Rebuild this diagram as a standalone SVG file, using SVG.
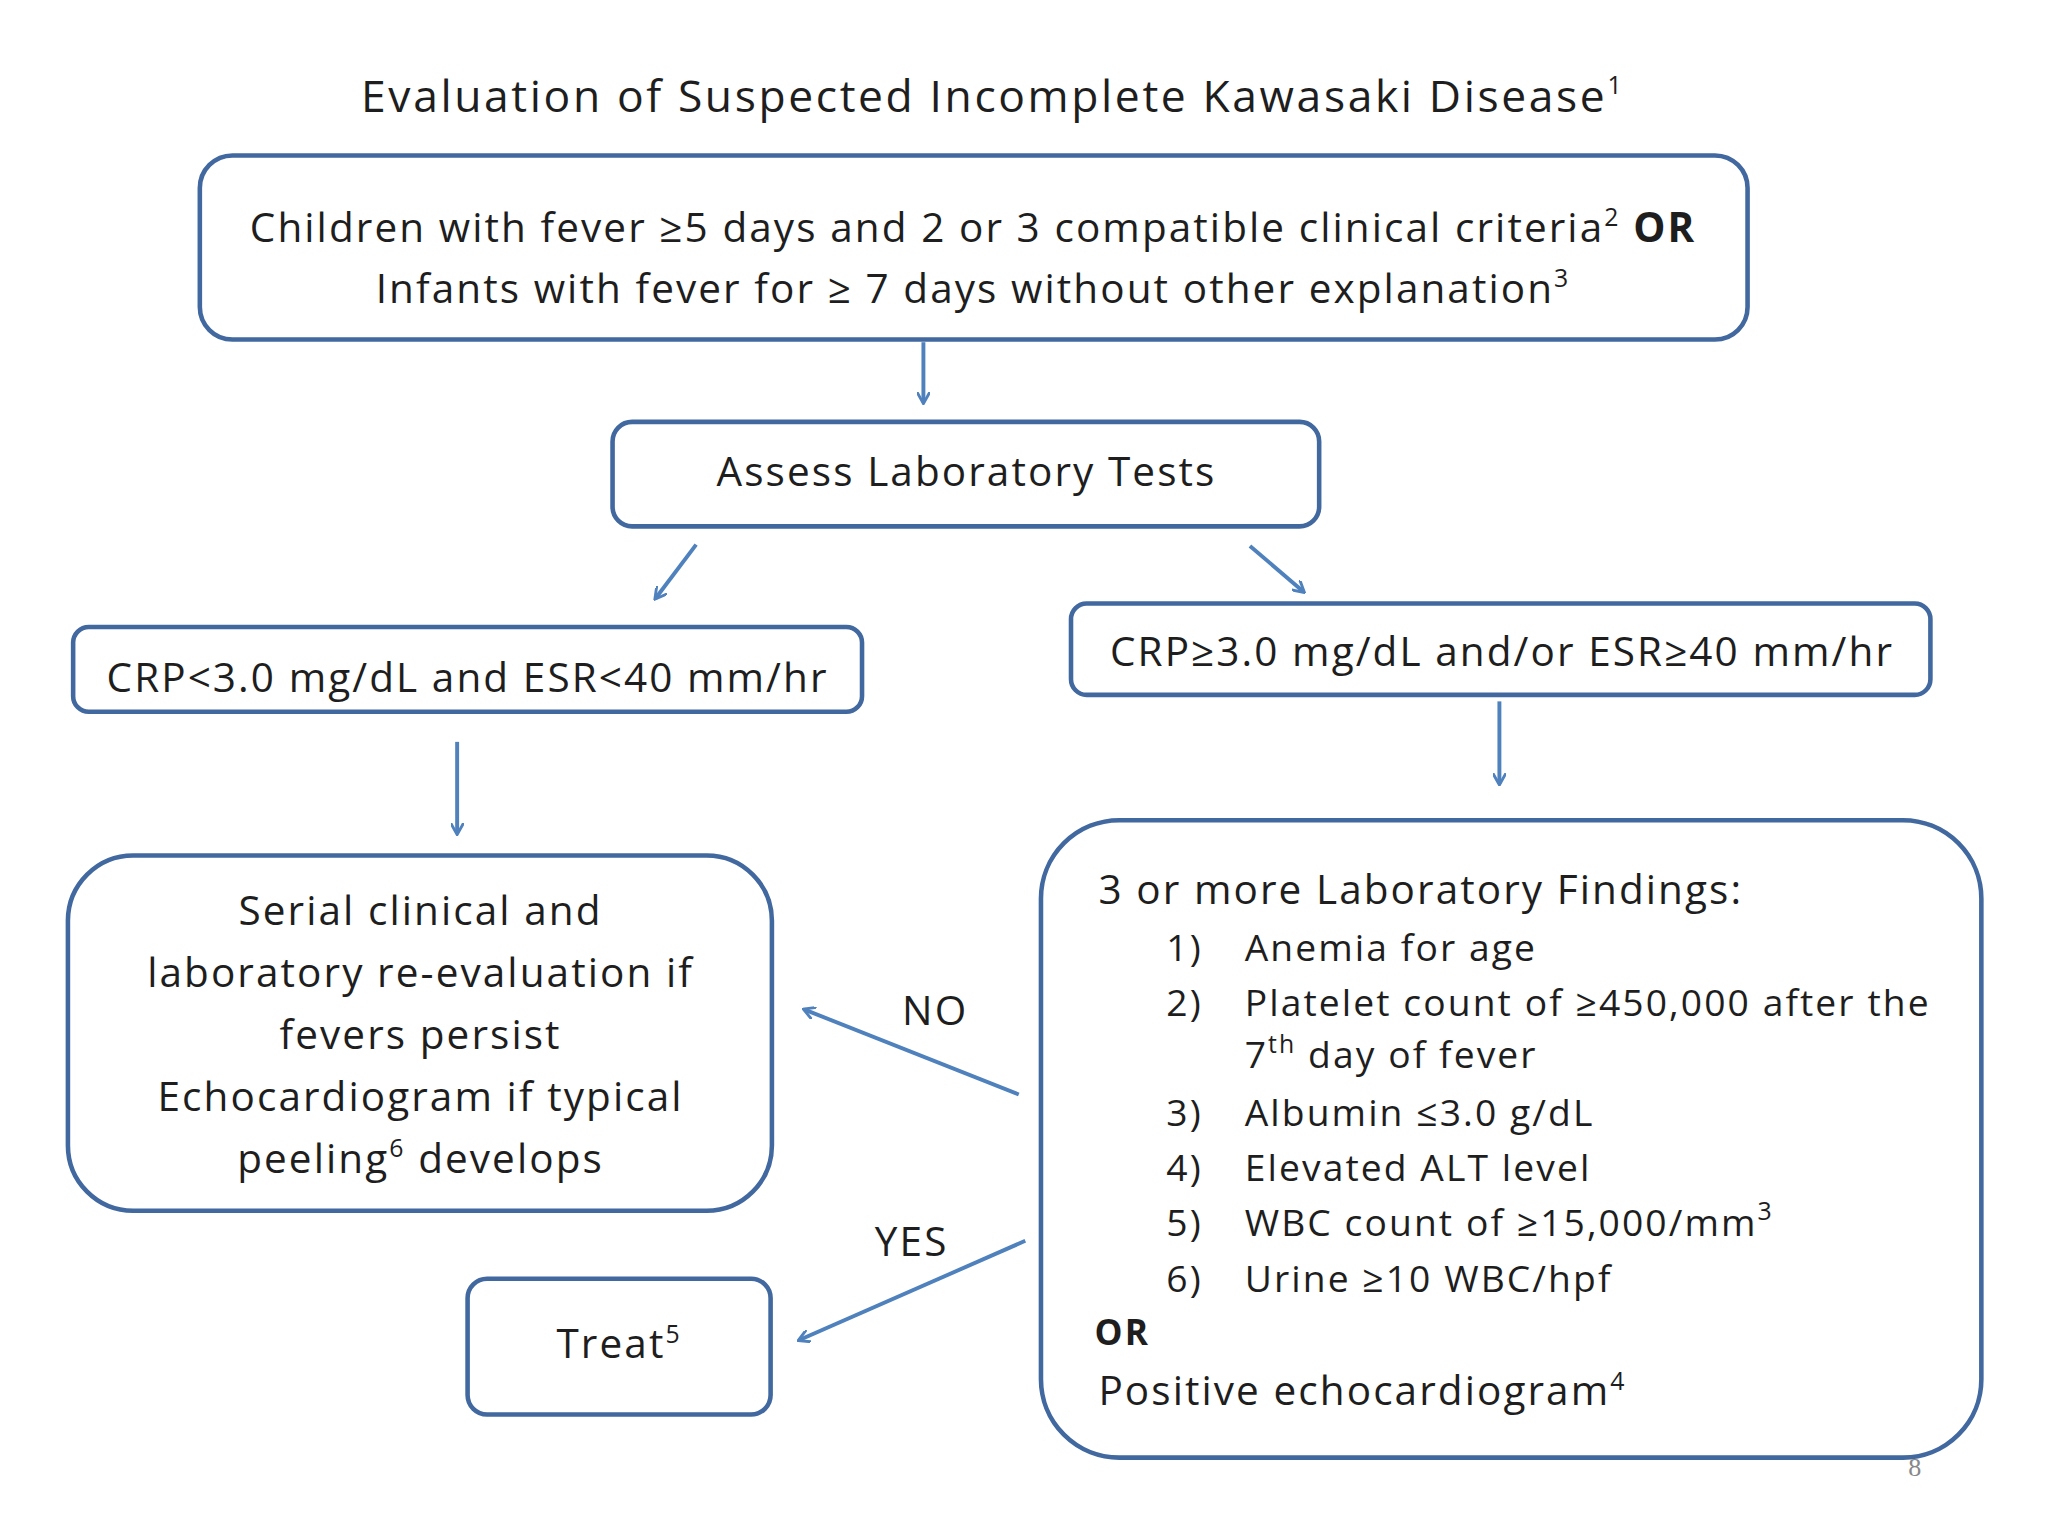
<svg xmlns="http://www.w3.org/2000/svg" width="2048" height="1536" viewBox="0 0 2048 1536">
<style>
text{font-family:"Open Sans",Lato,"DejaVu Sans",sans-serif;fill:#1e1e1e;font-size:31px;letter-spacing:1.6px}
.b{fill:none;stroke:#41689f;stroke-width:3.5}
.c{stroke:#4f81bd;stroke-width:3;fill:none;marker-end:url(#a)}
.m{text-anchor:middle}
.s{font-size:19px}
.l{font-size:28.5px}
</style>
<defs><marker id="a" markerWidth="10" markerHeight="10" refX="8" refY="5" orient="auto" markerUnits="userSpaceOnUse" viewBox="0 0 10 10"><path d="M0,0 L9,5 L0,10" fill="none" stroke="#4f81bd" stroke-width="2.2"/></marker></defs>
<rect width="2048" height="1536" fill="#fff"/>
<g transform="scale(1.3061)">
<text x="760" y="86" class="m" style="font-size:34px;letter-spacing:2px">Evaluation of Suspected Incomplete Kawasaki Disease<tspan class="s" dy="-14">1</tspan></text>
<g id="n1"><rect class="b" x="153" y="119" width="1185" height="141" rx="25"/>
<text x="745" y="185" class="m">Children with fever ≥5 days and 2 or 3 compatible clinical criteria<tspan class="s" dy="-12">2</tspan><tspan dy="12" font-weight="bold"> OR</tspan></text>
<text x="745" y="232" class="m">Infants with fever for ≥ 7 days without other explanation<tspan class="s" dy="-12">3</tspan></text></g>
<g id="n2"><rect class="b" x="469" y="323" width="541" height="80" rx="15"/><text x="740" y="372" class="m">Assess Laboratory Tests</text></g>
<g id="n3"><rect class="b" x="56" y="480" width="604" height="65" rx="12"/><text x="358" y="530" class="m">CRP&lt;3.0 mg/dL and ESR&lt;40 mm/hr</text></g>
<g id="n4"><rect class="b" x="820" y="462" width="658" height="70" rx="12"/><text x="1150" y="510" class="m">CRP≥3.0 mg/dL and/or ESR≥40 mm/hr</text></g>
<g id="n5"><rect class="b" x="52" y="655" width="539" height="272" rx="50"/>
<text x="322" y="708" class="m">Serial clinical and</text>
<text x="322" y="756" class="m">laboratory re-evaluation if</text>
<text x="322" y="803" class="m">fevers persist</text>
<text x="322" y="851" class="m">Echocardiogram if typical</text>
<text x="322" y="898" class="m">peeling<tspan class="s" dy="-12">6</tspan><tspan dy="12"> develops</tspan></text></g>
<g id="n6"><rect class="b" x="797" y="628" width="720" height="488" rx="60"/>
<text x="841" y="692">3 or more Laboratory Findings:</text>
<text x="893" y="736" class="l">1)</text><text x="953" y="736" class="l">Anemia for age</text>
<text x="893" y="778" class="l">2)</text><text x="953" y="778" class="l">Platelet count of ≥450,000 after the</text>
<text x="953" y="818" class="l">7<tspan class="s" dy="-12">th</tspan><tspan dy="12"> day of fever</tspan></text>
<text x="893" y="862" class="l">3)</text><text x="953" y="862" class="l">Albumin ≤3.0 g/dL</text>
<text x="893" y="904" class="l">4)</text><text x="953" y="904" class="l">Elevated ALT level</text>
<text x="893" y="946" class="l">5)</text><text x="953" y="946" class="l">WBC count of ≥15,000/mm<tspan class="s" dy="-12">3</tspan></text>
<text x="893" y="989" class="l">6)</text><text x="953" y="989" class="l">Urine ≥10 WBC/hpf</text>
<text x="838" y="1030" font-weight="bold" style="font-size:27px">OR</text>
<text x="841" y="1076">Positive echocardiogram<tspan class="s" dy="-12">4</tspan></text></g>
<g id="n7"><rect class="b" x="358" y="979" width="232" height="104" rx="15"/><text x="474" y="1040" class="m">Treat<tspan class="s" dy="-12">5</tspan></text></g>
<g id="connectors">
<line class="c" x1="707" y1="262" x2="707" y2="308"/>
<line class="c" x1="533" y1="417" x2="502" y2="458"/>
<line class="c" x1="957" y1="418" x2="998" y2="453"/>
<line class="c" x1="350" y1="568" x2="350" y2="638"/>
<line class="c" x1="1148" y1="537" x2="1148" y2="600"/>
<line class="c" x1="780" y1="838" x2="616" y2="773"/>
<line class="c" x1="785" y1="950" x2="612" y2="1026"/>
<text x="716" y="785" class="m">NO</text>
<text x="698" y="962" class="m">YES</text>
</g>
<text x="1466" y="1130" class="m" style="font-size:20px;fill:#888;font-family:'Liberation Serif',serif;letter-spacing:0">8</text>
</g>
</svg>
